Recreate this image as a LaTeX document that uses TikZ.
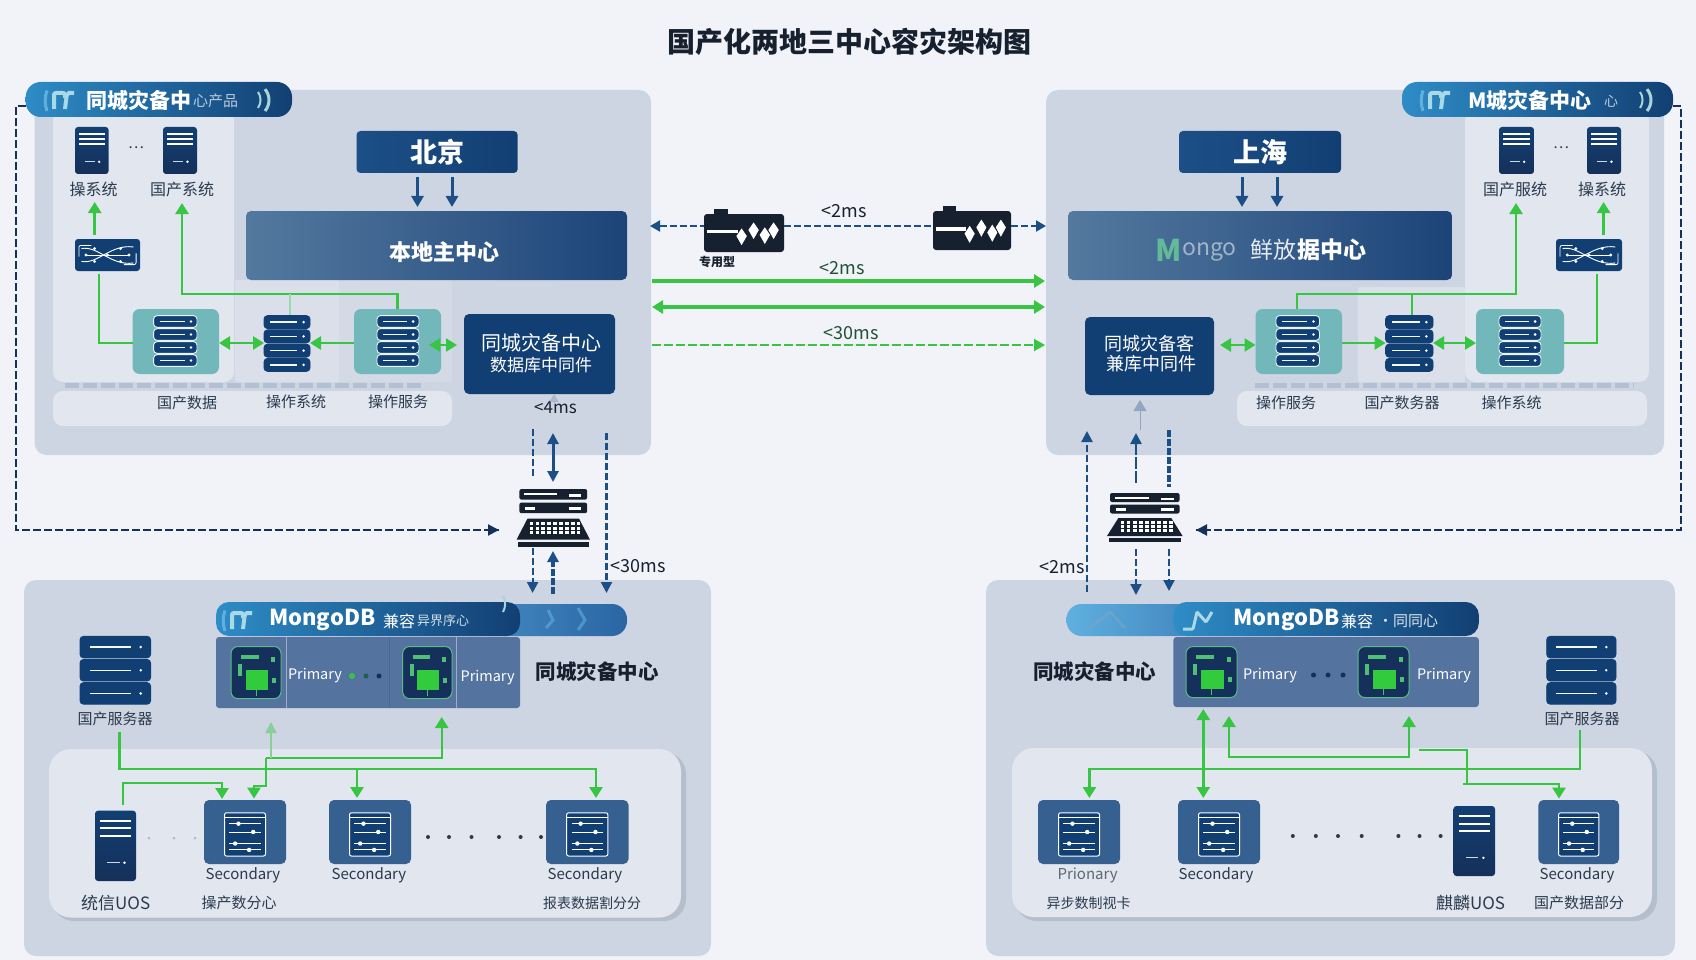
\documentclass[tikz,border=0pt]{standalone}
\usepackage{fontspec}
\setmainfont{Noto Sans CJK SC}
\usetikzlibrary{arrows.meta,calc}
\definecolor{pagebg}{HTML}{F1F3F8}
\definecolor{panel}{HTML}{CED5E2}
\definecolor{pale}{HTML}{E1E6EF}
\definecolor{pale2}{HTML}{DADFEA}
\definecolor{navy}{HTML}{123F73}
\definecolor{navyd}{HTML}{15305A}
\definecolor{blue}{HTML}{1C4F87}
\definecolor{secblue}{HTML}{35608F}
\definecolor{prim}{HTML}{54739F}
\definecolor{teal}{HTML}{72B7BA}
\definecolor{grn}{HTML}{38C544}
\definecolor{ink}{HTML}{2B3A4E}
\definecolor{blk}{HTML}{17202E}
\definecolor{dashnavy}{HTML}{16305A}
\definecolor{logoc}{HTML}{A9D8E6}
\tikzset{
 fs/.style={font=\fontsize{#1}{#1}\selectfont},
 lbl/.style={text=ink,inner sep=0pt},
 wht/.style={text=white,inner sep=0pt},
 panelbox/.style={fill=panel,rounded corners=12pt},
 palebox/.style={fill=pale,rounded corners=10pt},
 navybox/.style={rounded corners=4pt,left color=blue,right color=navy},
 mainbox/.style={rounded corners=5pt,left color=HdrA,right color=HdrB},
 teal box/.style={fill=teal,rounded corners=7pt},
 secbox/.style={fill=secblue,rounded corners=5pt},
 primbox/.style={fill=prim,rounded corners=3pt},
 pill/.style={rounded corners=15pt,left color=PillA,right color=PillB},
 pillsoft/.style={rounded corners=15pt,left color=PillC,right color=PillD},
 gline/.style={draw=grn,line width=2.6pt},
 garrow/.style={gline,-{Triangle[length=11pt,width=13pt]}},
 gdouble/.style={gline,{Triangle[length=11pt,width=13pt]}-{Triangle[length=11pt,width=13pt]}},
 gdash/.style={gline,line width=2pt,dash pattern=on 9pt off 3pt,-{Triangle[length=11pt,width=12pt]}},
 barrow/.style={draw=blue,line width=3pt,-{Triangle[length=11pt,width=12pt]}},
 bdash/.style={draw=blue,line width=2.2pt,dash pattern=on 7pt off 3pt},
 bdashb/.style={draw=blue,line width=3.4pt,dash pattern=on 7pt off 2pt},
 loop line/.style={draw=dashnavy,line width=2pt,dash pattern=on 8pt off 3pt},
 tip/.style={-{Triangle[length=11pt,width=11pt]}},
 tips/.style={{Triangle[length=11pt,width=11pt]}-{Triangle[length=11pt,width=11pt]}},
}
\definecolor{HdrA}{HTML}{54799F}
\definecolor{HdrB}{HTML}{1C4478}
\definecolor{PillA}{HTML}{2E8CC6}
\definecolor{PillB}{HTML}{123F73}
\definecolor{PillC}{HTML}{5FB0DF}
\definecolor{PillD}{HTML}{2A65A4}
\newcommand{\mybox}[7]{%
 \pgfmathsetmacro\bw{#4-#2}\pgfmathsetmacro\bh{#5-#3}%
 \pgfmathsetmacro\bcx{(#2+#4)/2}\pgfmathsetmacro\bcy{(#3+#5)/2}%
 \node[#6,minimum width=\bw pt,minimum height=\bh pt,inner sep=0pt,outer sep=0pt] (#1) at (\bcx,\bcy) {#7};}
% tower server
\newcommand{\mytower}[5]{%
 \mybox{#1}{#2}{#3}{#4}{#5}{rounded corners=3pt,top color=navy,bottom color=navyd}{}%
 \begin{scope}[shift={(#2,#3)},x=\bw pt,y=-\bh pt]
  \foreach \yy in {.14,.25,.36}{\draw[white,line width=2pt] (.12,\yy)--(.88,\yy);}
  \draw[white!80!navy,line width=1pt] (.3,.74)--(.6,.74);
  \fill[white] (.72,.74) circle (1.3pt);
 \end{scope}}
% rack stack
\newcommand{\myrack}[7]{% name,x1,y1,x2,y2,rows,outline colour
 \mybox{#1}{#2}{#3}{#4}{#5}{}{}%
 \pgfmathsetmacro\rgap{1/#6}%
 \begin{scope}[shift={(#2,#3)},x=\bw pt,y=-\bh pt]
  \foreach \ii in {1,...,#6}{%
   \pgfmathsetmacro\ya{(\ii-1)*\rgap+0.012}\pgfmathsetmacro\yb{\ii*\rgap-0.012}\pgfmathsetmacro\ym{(\ya+\yb)/2}%
   \draw[fill=navy,draw=#7,line width=.9pt,rounded corners=3.5pt] (0,\ya) rectangle (1,\yb);
   \draw[white!90!teal,line width=1.5pt] (.14,\ym)--(.72,\ym);
   \fill[white] (.86,\ym) circle (1.4pt);}
 \end{scope}}
% document icon in secondary boxes
\newcommand{\mysec}[3]{%
 \mybox{#1}{#2}{800}{#3}{864}{secbox}{}%
 \begin{scope}[shift={(#2,800)},x=\bw pt,y=-\bh pt]
  \draw[white,fill=navy,line width=1pt,rounded corners=2pt] (.25,.2) rectangle (.75,.875);
  \draw[white,line width=.8pt] (.25,.27)--(.75,.27);
  \foreach \yy/\dd in {.37/.42,.5/.6,.68/.38,.78/.55}{
   \draw[white,line width=1pt] (.31,\yy)--(.69,\yy);
   \fill[white] (\dd,\yy) circle (2.2pt);}
 \end{scope}}
% switch
\newcommand{\myswitch}[5]{%
 \mybox{#1}{#2}{#3}{#4}{#5}{fill=navy,rounded corners=3pt}{}%
 \begin{scope}[shift={(#2,#3)},x=\bw pt,y=-\bh pt]
  \draw[white,line width=.9pt] (.1,.3)..controls (.35,.2) and (.55,.85)..(.9,.75);
  \draw[white,line width=.9pt] (.1,.7)..controls (.35,.8) and (.55,.15)..(.9,.25);
  \draw[white,line width=.9pt] (.17,.5)--(.83,.5);
  \draw[white,line width=.8pt,rounded corners=2pt] (.06,.55)--(.06,.2)--(.25,.2) (.94,.45)--(.94,.8)--(.75,.8);
  \foreach \px/\py in {.17/.5,.3/.3,.3/.7,.5/.5,.7/.3,.7/.7,.83/.5}{\fill[white] (\px,\py) circle (1.6pt);}
 \end{scope}}
% chip
\newcommand{\mychip}[5]{%
 \mybox{#1}{#2}{#3}{#4}{#5}{fill=navyd,draw=grn!45!teal,line width=1pt,rounded corners=7pt}{}%
 \begin{scope}[shift={(#2,#3)},x=\bw pt,y=-\bh pt]
  \fill[grn!90!green] (.3,.45) rectangle (.74,.84);
  \fill[grn!60!teal] (.2,.16) rectangle (.55,.24);
  \fill[grn!60!teal] (.14,.34) rectangle (.22,.56);
  \fill[grn!60!teal] (.8,.2) rectangle (.88,.3);
  \fill[grn!60!teal] (.82,.6) rectangle (.9,.7);
  \draw[grn!70!teal,line width=1pt] (.5,.84)--(.5,.95);
 \end{scope}}
% small box device with a top tab
\newcommand{\mycam}[5]{%
 \mybox{#1}{#2}{#3}{#4}{#5}{fill=blk,rounded corners=3pt}{}%
 \begin{scope}[shift={(#2,#3)},x=\bw pt,y=-\bh pt]
  \fill[blk] (.13,-.12) rectangle (.3,.1);
  \fill[white] (.04,.42) rectangle (.42,.5);
  \foreach \px/\py in {.47/.58,.62/.42,.76/.55,.87/.42}{
   \fill[white] (\px-.065,\py) -- (\px,\py-.2) -- (\px+.065,\py) -- (\px,\py+.24) -- cycle;}
 \end{scope}}
% rack-and-keyboard device
\newcommand{\mykbd}[5]{%
 \mybox{#1}{#2}{#3}{#4}{#5}{}{}%
 \begin{scope}[shift={(#2,#3)},x=\bw pt,y=-\bh pt]
  \fill[blk,rounded corners=2pt] (.04,0) rectangle (.96,.18);
  \fill[blk,rounded corners=2pt] (.04,.23) rectangle (.96,.41);
  \fill[white] (.1,.07) rectangle (.55,.11);
  \fill[white] (.72,.09) rectangle (.88,.13);
  \fill[white] (.12,.3) rectangle (.25,.35);
  \fill[white] (.72,.3) rectangle (.88,.35);
  \fill[blk] (.15,.5) -- (.85,.5) -- (1,.86) -- (0,.86) -- cycle;
  \foreach \yy in {.56,.64,.72}{\foreach \xx in {.18,.26,...,.82}{\fill[white] (\xx,\yy) rectangle ++(.05,.05);}}
  \fill[blk] (.02,.9) rectangle (.98,.98);
 \end{scope}}
% logo in the pills
\newcommand{\mylogo}[3]{% x,y,colour
 \draw[#3,line width=4pt,rounded corners=2pt] (#1,#2+9)--(#1,#2-7)--(#1+11,#2-7)--(#1+11,#2-2);
 \draw[#3,line width=4pt,rounded corners=2pt] (#1+11,#2+9)--(#1+13,#2-7)--(#1+20,#2-7);
 \draw[PillC,line width=3pt] (#1-7,#2+11) arc[start angle=200,end angle=160,radius=30pt];}
\newcommand{\myarcs}[3]{% x,y,colour
 \draw[#3,line width=2pt] (#1,#2+8) arc[start angle=-35,end angle=35,radius=14pt];
 \draw[#3,line width=3pt] (#1+7,#2+11) arc[start angle=-40,end angle=40,radius=17pt];}
\begin{document}
\begin{tikzpicture}[x=1pt,y=-1pt]
\useasboundingbox (0,0) rectangle (1696,960);
\fill[pagebg] (0,0) rectangle (1696,960);
\node[inner sep=0pt,font=\fontsize{28}{28}\selectfont\bfseries,text=blk] (title) at (849,42) {国产化两地三中心容灾架构图};

% ===== panels =====
\mybox{pTL}{34.5}{90}{651}{455}{panelbox}{}
\mybox{pTR}{1046}{90}{1664}{455}{panelbox}{}
\mybox{pBL}{24}{580}{711}{956}{panelbox}{}
\mybox{pBR}{986}{580}{1675}{956}{panelbox}{}
% pale sub-areas, top left
\mybox{aTL1}{53}{110}{234}{382}{palebox}{}
\mybox{aTL2}{235}{280}{339}{382}{fill=pale2,rounded corners=2pt}{}
\mybox{aTL3}{339}{280}{452}{382}{fill=panel!60!pale2,rounded corners=2pt}{}
\mybox{aTL4}{53}{391}{452}{426}{palebox}{}
\draw[panel!55!blue,opacity=.35,line width=5pt,dash pattern=on 14pt off 4pt] (65,385)--(425,385);
% pale sub-areas, top right
\mybox{aTR1}{1465}{110}{1649}{382}{palebox}{}
\mybox{aTR2}{1358}{287}{1465}{382}{fill=pale2,rounded corners=2pt}{}
\mybox{aTR4}{1237}{391}{1647}{426}{palebox}{}
\draw[panel!55!blue,opacity=.35,line width=5pt,dash pattern=on 14pt off 4pt] (1255,385)--(1634,385);
% inner panels, bottom, with soft edge
\fill[panel!80!blue!80!black,opacity=.35,rounded corners=22pt] (52,752) rectangle (686,921);
\fill[panel!80!blue!80!black,opacity=.35,rounded corners=22pt] (1015,751) rectangle (1657,921);
\mybox{aBL}{49}{749}{681}{917.6}{fill=pale,rounded corners=22pt}{}
\mybox{aBR}{1012}{748}{1652}{917}{fill=pale,rounded corners=22pt}{}

% ===== long dashed loops =====
\coordinate (hlL) at (16,106);
\coordinate (hlR) at (1681,106);
\coordinate (lpL) at (16,530);
\coordinate (lpR) at (1681,530);
\coordinate (lpLe) at (499,530);
\coordinate (lpRe) at (1196,530);

% ===== pills =====
\mybox{hTL}{25.7}{82}{292}{117}{pill}{}
\mybox{hTR}{1402}{82}{1673}{117}{pill}{}
\draw[loop line] (hTL.west|-hlL) -- (hlL) -- (lpL) -- (lpLe);
\draw[dashnavy,-{Triangle[length=11pt,width=11pt]},line width=2pt] ($(lpLe)+(-3,0)$)--(lpLe);
\draw[loop line] (hTR.east|-hlR) -- (hlR) -- (lpR) -- (lpRe);
\draw[dashnavy,-{Triangle[length=11pt,width=11pt]},line width=2pt] ($(lpRe)+(3,0)$)--(lpRe);
\mylogo{54}{100}{logoc}
\node[wht,anchor=west,font=\fontsize{21}{21}\selectfont\bfseries] (tTL) at (86,100) {同城灾备中};
\node[wht,anchor=west,fs=15,opacity=.7] (tTL2) at (193,101) {心产品};
\myarcs{258}{100}{teal!60!white}
\mylogo{1430}{100}{logoc}
\node[wht,anchor=west,font=\fontsize{21}{21}\selectfont\bfseries] (tTR) at (1468,100) {M城灾备中心};
\node[wht,anchor=west,fs=14,opacity=.7] (tTR2) at (1604,101) {心};
\myarcs{1640}{100}{teal!60!white}

% ===== top left =====
\mybox{bj}{356.5}{131}{517.7}{173}{navybox}{}
\node[wht,font=\fontsize{27}{27}\selectfont\bfseries] (tbj) at (bj) {北京};
\mybox{mainL}{246}{211}{627}{280}{mainbox}{}
\node[wht,font=\fontsize{22}{22}\selectfont\bfseries] (tmainL) at (444,252) {本地主中心};
\coordinate (a1) at (417.5,177); \coordinate (a2) at (452,177);
\coordinate (a3) at (417.5,207); \coordinate (a4) at (452,207);
\draw[barrow] (a1) -- (a3);
\draw[barrow] (a2) -- (a4);
\mytower{tw1}{75}{127}{108.6}{174}
\mytower{tw2}{163}{127}{197}{174}
\node[lbl,fs=15] (dt1) at (136,148) {…};
\node[lbl,fs=16] (l1) at (93.5,189) {操系统};
\node[lbl,fs=16] (l2) at (182,189) {国产系统};
\myswitch{sw1}{75}{239}{140}{271}
\mybox{t11}{132.6}{309}{219}{374}{teal box}{}
\myrack{r11}{153.6}{315}{197}{367}{4}{white!85!teal}
\myrack{r12}{264}{315}{310}{372}{4}{navy}
\mybox{t13}{354}{309}{441}{374}{teal box}{}
\myrack{r13}{377}{315}{419}{367}{4}{white!85!teal}
\mybox{dbL}{464}{314}{615}{394}{fill=navy,rounded corners=5pt}{}
\node[wht,fs=20] (dbL1) at (541,343) {同城灾备中心};
\node[wht,fs=17] (dbL2) at (541,365) {数据库中同件};
\node[lbl,fs=15] (l3) at (187,403) {国产数据};
\node[lbl,fs=15] (l4) at (296,402) {操作系统};
\node[lbl,fs=15] (l5) at (398,402) {操作服务};
\node[lbl,fs=17,text=blk] (l6) at (555.5,408) {<4ms};
\coordinate (sA) at (94.7,235); \coordinate (sB) at (94.7,202);
\draw[garrow] (sA) -- (sB);
\coordinate (sC) at (182,203); \coordinate (sD) at (182,294);
\draw[garrow] (t13.north) |- (sD) -- (sC);
\coordinate (sE) at (99,274); \coordinate (sF) at (99,343);
\draw[gline] (sE) -- (sF) -- (t11.west|-sF);
\coordinate (sG) at (290,294);
\draw[grn!40!pale,line width=1.3pt] (sG) -- (r12.north-|sG);
\coordinate (sH) at (429,345); \coordinate (sI) at (457,345);
\draw[gdouble] (t11.east|-sF) -- (r12.west|-sF);
\draw[garrow] (t13.west|-sF) -- (r12.east|-sF);
\draw[gdouble,line width=2pt] (sH) -- (sI);

% ===== top right =====
\mybox{sh}{1179}{131}{1341}{173}{navybox}{}
\node[wht,font=\fontsize{27}{27}\selectfont\bfseries] (tsh) at (sh) {上海};
\mybox{mainR}{1068}{211}{1452}{280}{mainbox}{}
\node[anchor=west,inner sep=0pt,text=teal!70!grn,font=\fontsize{30}{30}\selectfont\bfseries] (tmR0) at (1155,250) {M};
\node[anchor=west,inner sep=0pt,text=white!45!HdrA,fs=23] (tmR1) at (1182,252) {ongo};
\node[anchor=west,inner sep=0pt,text=white!85!HdrA,fs=23] (tmR2) at (1250,250) {鲜放};
\node[anchor=west,wht,font=\fontsize{23}{23}\selectfont\bfseries] (tmR3) at (1297,250) {据中心};
\coordinate (b1) at (1242,177); \coordinate (b2) at (1277,177);
\coordinate (b3) at (1242,207); \coordinate (b4) at (1277,207);
\draw[barrow] (b1) -- (b3);
\draw[barrow] (b2) -- (b4);
\mytower{tw3}{1499}{127}{1534}{174}
\mytower{tw4}{1587}{127}{1621}{174}
\node[lbl,fs=15] (dt2) at (1561,148) {…};
\node[lbl,fs=16] (l7) at (1515,189) {国产服统};
\node[lbl,fs=16] (l8) at (1602,189) {操系统};
\myswitch{sw2}{1556}{239}{1622}{271}
\mybox{t21}{1255.5}{309}{1342}{374}{teal box}{}
\myrack{r21}{1276}{315}{1319.5}{367}{4}{white!85!teal}
\myrack{r22}{1385.6}{315}{1433}{372}{4}{navy}
\mybox{t23}{1476}{309}{1564}{374}{teal box}{}
\myrack{r23}{1499}{315}{1541}{367}{4}{white!85!teal}
\mybox{dbR}{1085}{317}{1214}{395}{fill=navy,rounded corners=5pt}{}
\node[wht,fs=18] (dbR1) at (1149,344) {同城灾备客};
\node[wht,fs=18] (dbR2) at (1151,364) {兼库中同件};
\node[lbl,fs=15] (l9) at (1286,403) {操作服务};
\node[lbl,fs=15] (l10) at (1402,403) {国产数务器};
\node[lbl,fs=15] (l11) at (1511.5,403) {操作系统};
\coordinate (uA) at (1603.6,235); \coordinate (uB) at (1603.6,202);
\draw[garrow] (uA) -- (uB);
\coordinate (uC) at (1516,203); \coordinate (uD) at (1516,294); \coordinate (uE) at (1297,294);
\draw[garrow] (uE|-t21.north) -- (uE) -- (uD) -- (uC);
\coordinate (uF) at (1412,294);
\draw[gline] (uF) -- (uF|-r22.north);
\coordinate (uG) at (1597,343); \coordinate (uH) at (1597,274);
\draw[gline] (t23.east|-uG) -- (uG) -- (uH);
\coordinate (uI) at (1220,345);
\draw[gdouble] (uI) -- (t21.west|-uI);
\draw[garrow] (t21.east|-uG) -- (r22.west|-uG);
\draw[gdouble] (r22.east|-uG) -- (t23.west|-uG);

% ===== middle links =====
\coordinate (mL) at (652,0); \coordinate (mR) at (1045,0);
\mycam{camL}{704}{214}{784}{252}
\mycam{camR}{933}{211}{1011}{250}
\coordinate (mA) at (650,226); \coordinate (mB) at (1046,226);
\draw[bdash,line width=2pt,{Triangle[length=10pt,width=11pt]}-] (mA) -- (camL.west|-mA);
\draw[bdash,line width=2pt] (camL.east|-mA) -- (camR.west|-mA);
\draw[bdash,line width=2pt,-{Triangle[length=10pt,width=11pt]}] (camR.east|-mA) -- (mB);
\node[lbl,fs=18,text=blk] (m1) at (844,211) {<2ms};
\node[lbl,font=\fontsize{12}{12}\selectfont\bfseries,text=blk] (m2) at (717,262) {专用型};
\node[lbl,fs=18,text=blk!70!grn] (m3) at (842,268) {<2ms};
\draw[garrow,line width=3.4pt] (mL|-0,281) -- (mR|-0,281);
\draw[gdouble,line width=3.4pt] (mL|-0,307) -- (mR|-0,307);
\node[lbl,fs=18,text=blk!70!grn] (m4) at (851,333) {<30ms};
\draw[gdash] (mL|-0,345) -- (mR|-0,345);

% ===== vertical links, left =====
\mykbd{kbL2}{516.5}{489}{590}{548}
\coordinate (va) at (532.6,429); \coordinate (vb) at (532.6,479);
\coordinate (vc) at (532.6,548); \coordinate (vd) at (532.6,593);
\draw[bdash] (va) -- (vb);
\draw[bdash,tip] (vc) -- (vd);
\coordinate (ve) at (553,433); \coordinate (vf) at (553,482);
\coordinate (vg) at (553,594); \coordinate (vh) at (553,551);
\draw[draw=blue,line width=3pt,tips] (ve) -- (vf);
\draw[bdashb,tip] (vg) -- (vh);
\coordinate (vi) at (606.5,433); \coordinate (vj) at (606.5,593);
\draw[bdash,tip] (vi) -- (vj);
\node[lbl,fs=18,text=blk] (v30) at (638,566.5) {<30ms};
\coordinate (vk) at (554,404); \coordinate (vl) at (554,394);
\draw[draw=blue!30!panel,line width=1pt,-{Triangle[length=8pt,width=9pt]},opacity=.6] (vk) -- (vl);

% ===== vertical links, right =====
\mykbd{kbR2}{1107}{493}{1182.6}{543}
\coordinate (wa) at (1087,592); \coordinate (wb) at (1087,431);
\draw[bdash,tip] (wa) -- (wb);
\coordinate (wc) at (1136,483); \coordinate (wd) at (1136,433);
\coordinate (we) at (1136,549); \coordinate (wf) at (1136,595);
\draw[draw=blue,line width=2.4pt,dash pattern=on 12pt off 2pt,tip] (wc) -- (wd);
\draw[bdash,tip] (we) -- (wf);
\coordinate (wg) at (1169,430); \coordinate (wh) at (1169,487);
\coordinate (wi) at (1169,549); \coordinate (wj) at (1169,591);
\draw[bdashb] (wg) -- (wh);
\draw[bdash,tip] (wi) -- (wj);
\node[lbl,fs=18,text=blk,anchor=east] (v2) at (1085,567) {<2ms};
\coordinate (wk) at (1140,430); \coordinate (wl) at (1140,400);
\draw[draw=blue!35!panel,line width=1pt,-{Triangle[length=11pt,width=13pt]}] (wk) -- (wl);

% ===== bottom left =====
\mybox{hBLb}{330}{604}{627}{636}{pillsoft}{}
\mybox{hBL}{216}{602}{520}{636}{pill,rounded corners=13pt}{}
\mybox{pmL}{216}{637}{520}{708}{primbox}{}
\draw[panel,line width=.5pt,opacity=.6] (286,637)--(286,708) (456,637)--(456,708);
\draw[prim!80!navy,line width=1pt] (389,637)--(389,708);
\mylogo{232}{620}{logoc}
\node[wht,anchor=west,font=\fontsize{22}{22}\selectfont\bfseries] (thBL) at (269,620) {MongoDB};
\node[wht,anchor=west,fs=16] (thBL2) at (383,621) {兼容};
\node[wht,anchor=west,fs=13,opacity=.8] (thBL3) at (417,621) {异界序心};
\draw[teal!60!white,line width=2pt] (503,612) arc[start angle=-30,end angle=30,radius=16pt];
\draw[PillC,line width=3pt,opacity=.6] (548,610)--(553,620)--(546,628) (578,608)--(585,620)--(578,630);
\mychip{cA}{231}{646.5}{281}{698.6}
\mychip{cB}{402.7}{646.5}{452}{698.6}
\node[wht,fs=14.5] (pA) at (315,676) {Primary};
\node[wht,fs=14.5] (pB) at (487.6,678) {Primary};
\fill[grn] (352,676) circle (3pt);
\fill[navyd!70!grn] (366,676) circle (2.5pt);
\fill[navyd] (379,676) circle (2.5pt);
\node[lbl,text=blk,font=\fontsize{20.5}{20.5}\selectfont\bfseries] (tdc) at (597,672) {同城灾备中心};
\myrack{srvL2}{80}{635.5}{150.6}{705}{3}{navy}
\node[lbl,fs=15] (lsL) at (115,719) {国产服务器};
\mytower{twL}{95}{810.7}{136}{881}
\mysec{s1}{204}{286}
\mysec{s2}{329}{411}
\mysec{s3}{546}{628.5}
\foreach \xx in {149,174,195}{\fill[ink!25!pale] (\xx,838) circle (1.5pt);}
\foreach \xx in {428,449,471.5,499,520.6,541}{\fill[ink] (\xx,837) circle (2pt);}
\node[lbl,fs=15] (ls1) at (243,875) {Secondary};
\node[lbl,fs=15] (ls2) at (369,875) {Secondary};
\node[lbl,fs=15] (ls3) at (585,875) {Secondary};
\node[lbl,fs=17] (lu1) at (115.7,903) {统信UOS};
\node[lbl,fs=15] (lu2) at (239,903) {操产数分心};
\node[lbl,fs=14] (lu3) at (592,903) {报表数据割分分};
\coordinate (gA) at (119.4,732); \coordinate (gB) at (119.4,769); \coordinate (gC) at (596,769);
\coordinate (gD) at (596,798); \coordinate (gE) at (357,769); \coordinate (gF) at (357,798);
\draw[garrow] (gA) -- (gB) -- (gC) -- (gD);
\draw[garrow] (gE) -- (gF);
\coordinate (gG) at (123,804.5); \coordinate (gH) at (123,783); \coordinate (gI) at (222,783); \coordinate (gJ) at (222,799);
\draw[garrow,line width=2.4pt] (gG) -- (gH) -- (gI) -- (gJ);
\coordinate (gK) at (266,786); \coordinate (gL) at (254,786); \coordinate (gM) at (254,798.6);
\coordinate (gN) at (266,758); \coordinate (gO) at (441.7,758); \coordinate (gP) at (441.7,717);
\draw[garrow,line width=2.4pt] (gN) -- (gK) -- (gL) -- (gM);
\draw[garrow,line width=2.4pt] (gN) -- (gO) -- (gP);
\coordinate (gQ) at (271,758); \coordinate (gR) at (271,722);
\draw[draw=grn!45!panel,line width=2pt,-{Triangle[length=11pt,width=11pt]}] (gQ) -- (gR);

% ===== bottom right =====
\mybox{hBRb}{1066.5}{604}{1300}{636}{pillsoft}{}
\mybox{hBR}{1173.4}{602}{1478.8}{636}{pill,rounded corners=13pt}{}
\mybox{pmR}{1173.4}{637}{1478.8}{707}{primbox}{}
\draw[PillD!60!white,line width=2.5pt,opacity=.6] (1090,628)--(1110,612)--(1125,628);
\draw[logoc,line width=3pt,rounded corners=1pt] (1183,629)--(1193,629)--(1197,612)--(1206,622)--(1212,612);
\node[wht,anchor=west,font=\fontsize{22}{22}\selectfont\bfseries] (thBR) at (1233,620) {MongoDB};
\node[wht,anchor=west,fs=16] (thBR2) at (1341,621) {兼容};
\node[wht,anchor=west,fs=15,opacity=.85] (thBR3) at (1378,621) {·同同心};
\mychip{cC}{1186}{646.5}{1237}{697.6}
\mychip{cD}{1358}{646.5}{1409}{697.6}
\node[wht,fs=14.5] (pC) at (1270,676) {Primary};
\node[wht,fs=14.5] (pD) at (1444,676) {Primary};
\foreach \xx in {1313.5,1328,1343}{\fill[navyd] (\xx,675) circle (2.5pt);}
\node[lbl,text=blk,font=\fontsize{20.5}{20.5}\selectfont\bfseries] (tdcR) at (1094.5,672) {同城灾备中心};
\myrack{srvR}{1546.7}{635.5}{1616}{705}{3}{navy}
\node[lbl,fs=15] (lsR) at (1582,719) {国产服务器};
\mytower{twR}{1453.5}{806}{1495}{876}
\mysec{s4}{1038}{1120}
\mysec{s5}{1178}{1260}
\mysec{s6}{1538.4}{1619}
\foreach \xx in {1292.8,1315.8,1338,1361.7,1398.4,1419.5,1440.6}{\fill[ink] (\xx,836) circle (2pt);}
\node[lbl,fs=15,text=ink!70!panel] (ls4) at (1087.6,875) {Prionary};
\node[lbl,fs=15] (ls5) at (1216,875) {Secondary};
\node[lbl,fs=15] (ls6) at (1577,875) {Secondary};
\node[lbl,fs=14] (lv1) at (1088.5,903) {异步数制视卡};
\node[lbl,fs=17] (lv2) at (1470.5,903) {麒麟UOS};
\node[lbl,fs=15] (lv3) at (1579,903) {国产数据部分};
\coordinate (hA) at (1579.8,730); \coordinate (hB) at (1579.8,769); \coordinate (hC) at (1089.4,769); \coordinate (hD) at (1089.4,798);
\draw[garrow] (hA) -- (hB) -- (hC) -- (hD);
\coordinate (hE) at (1203.3,709); \coordinate (hF) at (1203.3,798);
\draw[gdouble] (hE) -- (hF);
\coordinate (hG) at (1229,716); \coordinate (hH) at (1229,757); \coordinate (hI) at (1409,757); \coordinate (hJ) at (1409,716);
\draw[gdouble] (hG) -- (hH) -- (hI) -- (hJ);
\coordinate (hK) at (1419,750); \coordinate (hL) at (1467,750); \coordinate (hM) at (1467,784);
\draw[draw=grn,line width=2pt] (hK) -- (hL) -- (hM);
\coordinate (hN) at (1463,784); \coordinate (hO) at (1559,784); \coordinate (hP) at (1559,798.6);
\draw[garrow,line width=2.4pt] (hN) -- (hO) -- (hP);
\end{tikzpicture}
\end{document}
